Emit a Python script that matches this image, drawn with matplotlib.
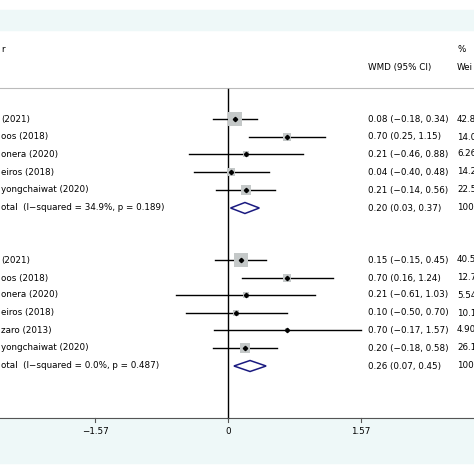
import matplotlib
matplotlib.use("Agg")
import matplotlib.pyplot as plt
from matplotlib.patches import Polygon, Rectangle

labels1 = ["(2021)", "oos (2018)", "onera (2020)", "eiros (2018)", "yongchaiwat (2020)", "otal  (I\u2212squared = 34.9%, p = 0.189)"]
est1 = [0.08, 0.70, 0.21, 0.04, 0.21, 0.20]
lo1 = [-0.18, 0.25, -0.46, -0.40, -0.14, 0.03]
hi1 = [0.34, 1.15, 0.88, 0.48, 0.56, 0.37]
w1 = [42.8, 14.0, 6.26, 14.2, 22.5, 100.0]
wtxt1 = ["42.8", "14.0", "6.26", "14.2", "22.5", "100."]

labels2 = ["(2021)", "oos (2018)", "onera (2020)", "eiros (2018)", "zaro (2013)", "yongchaiwat (2020)", "otal  (I\u2212squared = 0.0%, p = 0.487)"]
est2 = [0.15, 0.70, 0.21, 0.10, 0.70, 0.20, 0.26]
lo2 = [-0.15, 0.16, -0.61, -0.50, -0.17, -0.18, 0.07]
hi2 = [0.45, 1.24, 1.03, 0.70, 1.57, 0.58, 0.45]
w2 = [40.5, 12.7, 5.54, 10.1, 4.90, 26.1, 100.0]
wtxt2 = ["40.5", "12.7", "5.54", "10.1", "4.90", "26.1", "100."]

ticks = [-1.57, 0, 1.57]
tick_labels = ["\u22121.57", "0", "1.57"]

fig = plt.figure(figsize=(4.74, 4.74), dpi=100)
ax = fig.add_axes([0, 0, 1, 1])
ppu = 84.7
x0 = 228
ax.set_xlim(-x0 / ppu, (474 - x0) / ppu)
ax.set_ylim(474, 0)
ax.axis("off")

band = "#eef8f8"
ax.add_patch(Rectangle((-5, 10), 10, 20, color=band, zorder=0))
ax.add_patch(Rectangle((-5, 418), 10, 45, color=band, zorder=0))
ax.plot([-5, 5], [88, 88], color="#bbbbbb", lw=0.8)
ax.plot([-5, 5], [418, 418], color="#555555", lw=0.8)
ax.plot([0, 0], [89, 418], color="black", lw=1)

xl = -x0 / ppu + 1 / ppu
xv = (368 - x0) / ppu
xw = (457 - x0) / ppu
fs = 6.3
ax.text(xl, 49, "r", fontsize=fs, va="center")
ax.text(xv, 67, "WMD (95% CI)", fontsize=fs, va="center")
ax.text(xw, 49, "%", fontsize=fs, va="center")
ax.text(xw, 67, "Wei", fontsize=fs, va="center")

def group(ys, labels, est, lo, hi, w, wt):
    for i, y in enumerate(ys):
        ax.text(xl, y, labels[i], fontsize=fs, va="center")
        ax.text(xv, y, f"{est[i]:.2f} ({lo[i]:.2f}, {hi[i]:.2f})".replace("-", "\u2212"), fontsize=fs, va="center")
        ax.text(xw, y, wt[i], fontsize=fs, va="center")
        if i < len(ys) - 1:
            ax.plot([lo[i], hi[i]], [y, y], color="black", lw=1)
            s = (w[i] ** 0.5) * 2.14 * 0.72
            ax.plot(est[i], y, "s", ms=s, color="#c4c8c8", mew=0)
            ax.plot(est[i], y, "D", ms=2.2, color="black")
        else:
            ax.add_patch(Polygon([(lo[i], y), (est[i], y - 5.5), (hi[i], y), (est[i], y + 5.5)],
                                 closed=True, fill=False, edgecolor="#1a1a80", lw=1.1))

group([119, 137, 154, 172, 190, 208], labels1, est1, lo1, hi1, w1, wtxt1)
group([260, 278, 295, 313, 330, 348, 366], labels2, est2, lo2, hi2, w2, wtxt2)

for t, tl in zip(ticks, tick_labels):
    ax.plot([t, t], [418, 422], color="#555555", lw=0.8)
    ax.text(t, 432, tl, fontsize=fs, ha="center", va="center")

fig.savefig("out.png", dpi=100)
